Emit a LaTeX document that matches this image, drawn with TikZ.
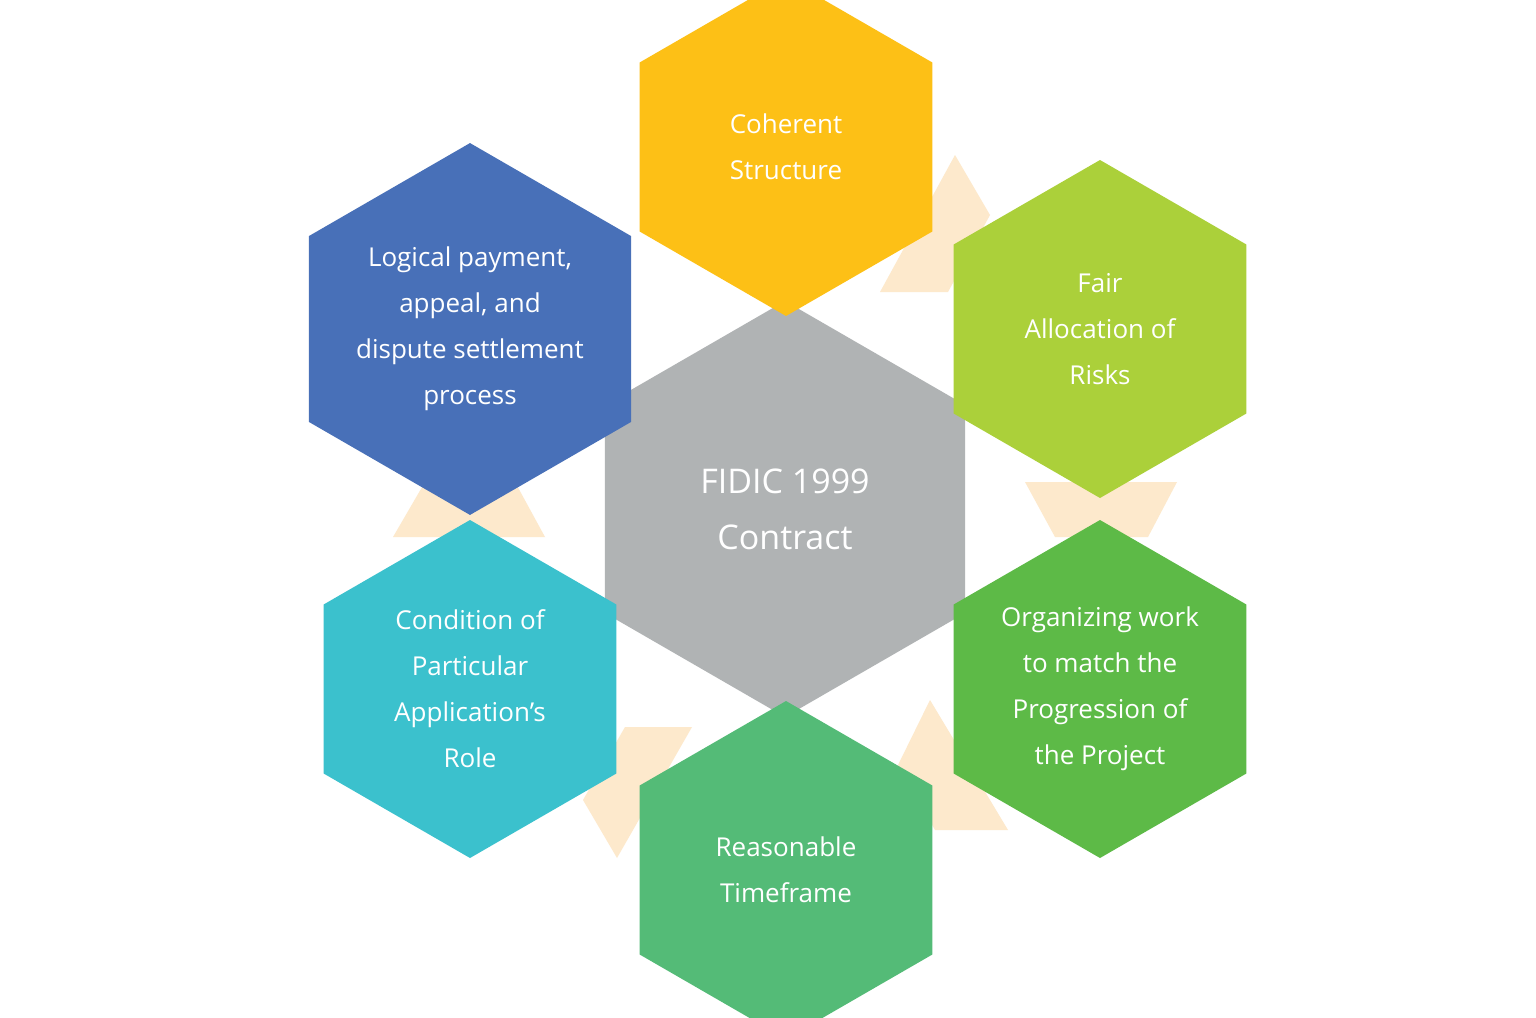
\documentclass[tikz,border=0pt]{standalone}
\usepackage{fontspec}
\setmainfont{Open Sans}
\usetikzlibrary{shapes.geometric}
\definecolor{cY}{HTML}{FDC016}
\definecolor{cF}{HTML}{ABD03A}
\definecolor{cB}{HTML}{4870B8}
\definecolor{cC}{HTML}{3BC1CD}
\definecolor{cO}{HTML}{5DBA47}
\definecolor{cR}{HTML}{54BB77}
\definecolor{cG}{HTML}{B0B3B4}
\definecolor{cP}{HTML}{FDE9CC}
\begin{document}
\begin{tikzpicture}[x=1pt,y=-1pt,
 hex/.style={regular polygon,regular polygon sides=6,shape border rotate=30,minimum size=338pt,inner sep=0pt,draw=none,text=white,align=center,font=\fontsize{26}{46}\selectfont},
 big/.style={hex,minimum size=416pt,font=\fontsize{34}{56}\selectfont},
 link/.style={fill=cP,draw=none}]
\useasboundingbox (0,0) rectangle (1536,1017);
\fill[white] (0,0) rectangle (1536,1017);
\fill[link] (880,292) -- (948,292) -- (990,215) -- (955,155) -- cycle;
\fill[link] (1025,482) -- (1177,482) -- (1148,537) -- (1055,537) -- cycle;
\fill[link] (425,482) -- (515,482) -- (545,537) -- (393,537) -- cycle;
\fill[link] (625,727) -- (692,727) -- (617,858) -- (583,800) -- cycle;
\fill[link] (930,700) -- (1008,830) -- (935,830) -- (898,765) -- cycle;
\node[big,fill=cG] (c) at (785,509) {FIDIC 1999\\Contract};
\node[hex,fill=cY] (t) at (786,147) {Coherent\\Structure};
\node[hex,fill=cF] (f) at (1100,329) {Fair\\Allocation of\\Risks};
\node[hex,fill=cB] (l) at (470,329) {Logical payment,\\appeal, and\\dispute settlement\\process};
\node[hex,fill=cC] (p) at (470,689) {Condition of\\Particular\\Application’s\\Role};
\node[hex,fill=cO] (o) at (1100,689) {Organizing work\\to match the\\Progression of\\the Project};
\node[hex,fill=cR] (r) at (786,870) {Reasonable\\Timeframe};
\end{tikzpicture}
\end{document}
